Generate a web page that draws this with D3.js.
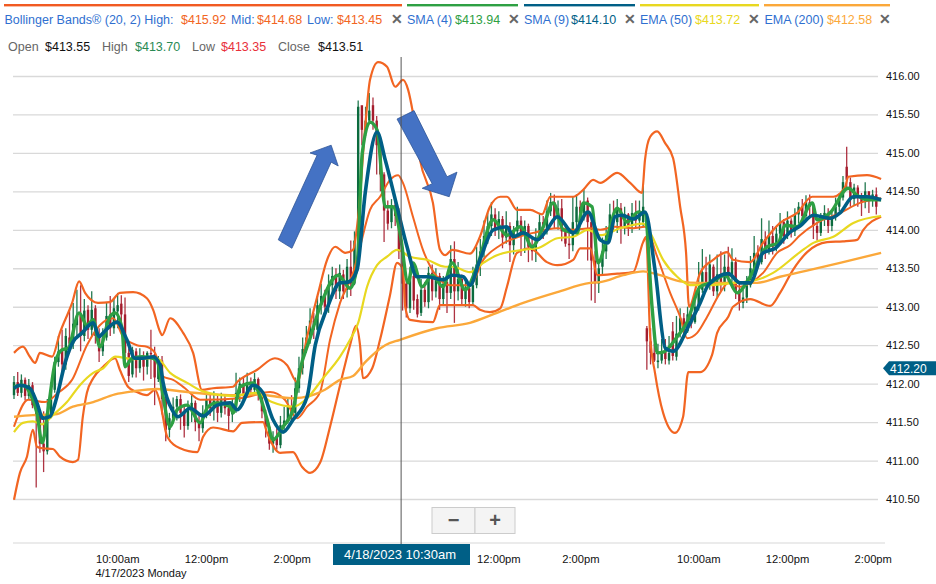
<!DOCTYPE html>
<html><head><meta charset="utf-8">
<script src="https://cdn.jsdelivr.net/npm/d3@7"></script>
<style>
html,body{margin:0;padding:0;background:#fff}
svg{display:block}
text{font-family:"Liberation Sans",Arial,sans-serif}
</style></head><body>
<svg id="c" width="936" height="584"></svg>
<script>
// ---- candles, one per five-minute bar (234 bars)
const opens=[
411.85,412.02,411.88,412.05,411.84,411.98,411.72,411.58,411.22,411.12,
411.60,411.92,412.28,412.44,412.25,412.60,412.52,412.76,412.90,412.62,
412.96,412.70,412.98,412.62,412.42,412.60,412.90,412.72,412.94,413.04,
412.90,412.40,412.12,412.42,412.20,412.36,412.22,412.40,412.38,412.06,
412.30,411.80,411.40,411.55,411.70,411.80,411.62,411.45,411.66,411.75,
411.50,411.42,411.62,411.80,411.68,411.78,411.62,411.80,411.68,411.60,
411.70,411.88,412.00,411.86,412.02,411.92,412.06,411.84,411.62,411.44,
411.22,411.30,411.20,411.46,411.52,411.70,411.62,411.94,412.20,412.45,
412.60,412.82,412.70,413.02,413.14,413.00,413.28,413.42,413.20,413.42,
413.22,413.52,413.30,413.88,415.62,415.30,415.42,415.62,415.42,415.10,
414.72,414.25,414.10,414.32,414.20,413.72,413.30,412.98,413.40,413.10,
412.92,413.22,413.06,413.44,413.20,413.40,413.10,413.32,413.18,413.62,
413.20,413.36,413.10,413.24,413.06,413.28,413.55,413.72,413.92,414.05,
414.20,414.02,414.14,413.90,414.05,413.80,413.98,414.12,413.92,414.05,
413.80,413.72,413.90,414.10,414.02,414.24,414.36,414.14,414.28,414.00,
413.82,413.80,414.10,414.30,414.22,414.38,414.10,413.60,413.30,413.52,
413.72,413.95,414.20,414.10,414.28,414.05,414.20,414.05,414.22,414.12,
414.10,412.72,412.55,412.40,412.28,412.30,412.42,412.30,412.68,412.35,
412.65,412.85,412.68,412.90,412.80,413.00,413.22,413.45,413.30,413.52,
413.20,413.42,413.28,413.52,413.38,413.58,413.22,413.05,413.12,413.28,
413.50,413.70,413.58,413.88,413.72,413.92,413.78,413.95,414.10,413.92,
414.12,413.98,414.20,414.30,414.18,414.36,414.30,414.05,413.96,414.15,
414.22,414.05,414.18,414.30,414.42,414.82,414.62,414.40,414.55,414.42,414.36,414.50,414.40,414.46];
const highs=[
412.10,412.15,412.12,412.08,412.06,412.02,411.80,411.62,411.64,411.80,
412.02,412.35,412.62,412.70,412.72,412.96,413.05,413.22,413.28,413.10,
413.02,413.20,413.02,412.72,412.72,413.05,413.14,413.10,413.18,413.15,
413.12,412.46,412.48,412.46,412.46,412.42,412.42,412.70,412.48,412.36,
412.36,411.84,411.62,411.82,411.84,411.86,411.70,411.78,411.85,411.78,
411.58,411.72,411.88,411.86,411.90,411.84,411.88,411.84,411.74,411.80,
412.14,412.08,412.08,412.14,412.08,412.14,412.08,411.88,411.66,411.48,
411.38,411.42,411.58,411.70,411.82,411.85,412.08,412.35,412.60,412.75,
412.98,412.92,413.14,413.30,413.22,413.42,413.52,413.50,413.55,413.48,
413.62,413.86,413.98,415.68,415.44,415.60,415.78,415.72,415.48,415.12,
414.75,414.38,414.40,414.42,414.28,413.78,413.42,413.52,413.50,413.16,
413.36,413.32,413.52,413.55,413.50,413.44,413.40,413.40,413.80,413.85,
413.58,413.42,413.34,413.30,413.52,413.78,413.88,414.12,414.22,414.36,
414.28,414.24,414.18,414.24,414.10,414.05,414.30,414.18,414.12,414.08,
413.90,414.02,414.22,414.18,414.38,414.48,414.46,414.38,414.40,414.05,
414.02,414.44,414.46,414.38,414.52,414.42,414.15,413.72,413.60,413.90,
414.05,414.34,414.38,414.40,414.35,414.30,414.22,414.35,414.38,414.38,
414.59,412.75,412.72,412.52,412.52,412.58,412.58,412.62,412.80,412.88,
412.98,412.92,413.00,413.02,413.22,413.58,413.75,413.65,413.68,413.55,
413.68,413.72,413.68,413.78,413.76,413.64,413.30,413.22,413.40,413.66,
413.92,413.80,414.15,413.98,414.12,414.05,414.05,414.22,414.14,414.24,
414.15,414.28,414.36,414.40,414.45,414.46,414.32,414.10,414.22,414.32,
414.28,414.24,414.42,414.48,414.70,415.08,414.68,414.60,414.58,414.48,414.62,414.50,414.52,414.55];
const lows=[
411.80,411.84,411.82,411.78,411.80,411.68,410.65,411.10,410.85,411.08,
411.55,411.88,412.22,412.15,412.18,412.40,412.45,412.62,412.42,412.55,
412.58,412.62,412.52,412.28,412.36,412.56,412.62,412.65,412.72,412.70,
412.22,412.02,412.08,412.08,412.14,412.04,412.12,412.06,411.72,412.02,
411.60,411.25,411.30,411.48,411.52,411.40,411.30,411.40,411.50,411.38,
411.25,411.36,411.55,411.58,411.52,411.50,411.56,411.60,411.38,411.50,
411.62,411.76,411.80,411.82,411.84,411.86,411.78,411.55,411.30,411.14,
411.10,411.14,411.16,411.38,411.48,411.52,411.58,411.88,412.12,412.40,
412.52,412.58,412.62,412.90,412.92,412.92,413.18,413.10,413.10,413.10,
413.12,413.14,413.28,413.84,415.10,415.22,415.38,415.30,414.72,414.50,
413.84,414.00,414.02,414.05,413.62,412.95,412.86,412.92,412.96,412.86,
412.88,413.00,412.98,413.08,413.12,412.96,413.02,412.92,413.10,412.79,
413.08,413.02,413.00,412.98,413.02,413.24,413.40,413.64,413.82,413.92,
413.92,413.88,413.76,413.82,413.58,413.68,413.90,413.66,413.70,413.58,
413.60,413.58,413.86,413.88,413.94,414.18,414.02,414.00,413.85,413.78,
413.62,413.72,414.02,414.10,414.12,413.60,413.08,413.05,413.18,413.42,
413.62,413.90,414.00,413.96,413.82,413.94,413.92,413.96,414.02,414.00,
414.05,412.18,412.25,412.28,412.20,412.26,412.25,412.25,412.30,412.30,
412.60,412.62,412.66,412.72,412.78,412.95,413.18,413.22,413.22,413.14,
413.12,413.20,413.20,413.30,413.25,413.10,412.95,412.98,413.05,413.25,
413.44,413.50,413.55,413.62,413.68,413.68,413.72,413.90,413.82,413.88,
413.90,413.92,414.08,414.10,414.12,414.18,413.88,413.86,413.92,414.05,
413.96,413.98,414.12,414.24,414.38,414.55,414.30,414.32,414.30,414.18,414.28,414.22,414.30,414.20];
const closes=[
412.02,411.88,412.05,411.84,411.98,411.72,411.58,411.22,411.12,411.58,
411.92,412.28,412.42,412.25,412.62,412.52,412.78,412.88,412.62,412.95,
412.70,412.96,412.62,412.42,412.60,412.88,412.72,412.98,413.02,412.90,
412.40,412.10,412.44,412.20,412.36,412.22,412.40,412.38,412.08,412.30,
411.80,411.40,411.55,411.70,411.80,411.62,411.45,411.66,411.75,411.50,
411.42,411.62,411.80,411.68,411.78,411.62,411.80,411.68,411.58,411.70,
411.88,412.00,411.86,412.02,411.92,412.06,411.86,411.64,411.44,411.22,
411.30,411.20,411.46,411.52,411.70,411.62,411.94,412.20,412.45,412.60,
412.82,412.70,413.02,413.14,413.00,413.28,413.40,413.20,413.44,413.20,
413.52,413.30,413.86,415.60,415.30,415.42,415.55,415.42,415.10,414.72,
414.25,414.08,414.30,414.18,413.72,413.30,412.98,413.40,413.08,412.90,
413.22,413.06,413.44,413.20,413.40,413.10,413.30,413.18,413.62,413.20,
413.36,413.10,413.24,413.06,413.28,413.55,413.72,413.92,414.05,414.20,
414.02,414.14,413.90,414.05,413.80,413.98,414.12,413.92,414.05,413.78,
413.72,413.90,414.10,414.02,414.24,414.36,414.14,414.28,413.98,413.82,
413.80,414.10,414.30,414.22,414.35,414.10,413.60,413.30,413.50,413.72,
413.95,414.20,414.10,414.28,414.05,414.20,414.05,414.22,414.12,414.25,
414.30,412.55,412.40,412.30,412.30,412.42,412.32,412.40,412.36,412.65,
412.85,412.68,412.90,412.78,413.00,413.22,413.45,413.30,413.55,413.20,
413.42,413.28,413.52,413.38,413.58,413.20,413.05,413.12,413.28,413.50,
413.70,413.58,413.88,413.72,413.92,413.78,413.95,414.10,413.92,414.12,
413.98,414.20,414.30,414.18,414.36,414.30,414.05,413.96,414.15,414.22,
414.05,414.18,414.30,414.42,414.62,414.65,414.40,414.55,414.42,414.36,414.50,414.40,414.46,414.30];

// ---- indicator lines as [bar, price]
const bandUpper=[[0,412.40],[2.4,412.48],[4.3,412.35],[5.7,412.27],[7,412.40],[10.3,412.35],[12.4,412.66],[15.7,413.05],[17.6,413.33],[19.2,413.18],[22.7,413.05],[25.9,413.06],[28.6,413.18],[32.2,413.19],[35.9,413.11],[37.6,412.96],[39.5,412.67],[40,412.63],[42.2,412.85],[45.7,412.66],[48.4,412.40],[50.8,411.92],[53.8,411.94],[59.2,411.96],[60.3,412.02],[65.7,412.18],[70.5,412.33],[73.8,412.24],[76.5,412.02],[79.2,412.61],[82.2,413.18],[84.6,413.61],[86.8,413.78],[89.5,413.70],[91.6,413.74],[93,414.17],[94.9,415.34],[96.2,415.95],[98.4,416.18],[100.8,416.12],[103,415.86],[105.1,415.95],[106.5,415.82],[107.8,415.52],[109.7,414.91],[113.2,414.35],[115.1,413.74],[116.5,413.67],[118.4,413.74],[123.2,413.69],[125.9,413.91],[128.6,414.30],[131.4,414.43],[133.2,414.43],[135.9,414.26],[139.5,414.26],[142.7,414.20],[144.9,414.43],[151.1,414.43],[153.8,414.52],[156.5,414.65],[158.4,414.61],[163,414.74],[166.5,414.61],[169.7,414.48],[170.5,414.91],[171.9,415.21],[173.8,415.28],[175.9,415.13],[178.1,414.93],[180,414.30],[181.6,413.70],[182.4,413.00],[185.4,413.44],[188.9,413.61],[192.7,413.71],[194.3,413.61],[198.9,413.58],[202.4,413.83],[207,414.09],[211.6,414.22],[215.7,414.43],[221.4,414.43],[224.6,414.56],[225.4,414.69],[230.5,414.71],[234.3,414.66]];
const bandMid=[[0,411.44],[3.8,411.79],[8.4,411.76],[11.9,411.88],[15.7,412.05],[19.7,412.50],[23.2,412.76],[26.8,412.85],[29.5,412.61],[33.2,412.50],[35.9,412.48],[38.1,412.40],[40.3,412.09],[43,412.05],[46.2,411.94],[50.3,411.79],[61.1,411.81],[69.2,411.89],[73.2,411.79],[76.5,411.55],[79.2,411.70],[82.7,411.89],[85.4,412.57],[88.1,413.05],[91.6,413.44],[93.5,413.78],[96.2,414.26],[98.9,414.43],[101.6,414.65],[103.8,414.71],[105.1,414.61],[107.8,414.17],[110.5,413.74],[114.3,413.39],[117.8,413.28],[123.2,413.28],[126.8,413.61],[131.4,413.80],[140.3,413.96],[146.8,414.02],[151.1,414.00],[155.7,414.02],[158.4,414.00],[162.4,414.04],[167.3,414.02],[170.5,414.04],[173.8,413.65],[177.3,413.18],[180,412.87],[181.9,412.59],[184.6,412.66],[187.3,412.87],[190.8,413.18],[193,413.31],[196.2,413.26],[198.9,413.31],[202.4,413.44],[206.2,413.70],[209.7,413.80],[212.4,413.93],[217,414.09],[223.2,414.22],[228.6,414.35],[234.3,414.41]];
const bandLower=[[0,410.49],[1.6,410.84],[3.5,411.05],[5.1,411.40],[6.2,411.18],[7.6,411.16],[10.5,411.15],[12.4,411.05],[15.9,410.98],[17.3,411.01],[18.6,411.57],[19.7,411.88],[21.4,412.07],[24.1,412.22],[27.3,412.33],[28.6,412.18],[30.8,411.96],[33.2,411.89],[35.9,411.85],[38.1,411.92],[39.5,411.75],[41.4,411.31],[44.9,411.16],[49.5,411.11],[51.1,411.31],[53.8,411.43],[59.2,411.38],[61.6,411.49],[67.3,411.50],[68.4,411.36],[71.9,411.10],[75.4,411.11],[77.8,410.92],[80,410.84],[82.7,410.97],[85.4,411.44],[88.1,411.98],[90.8,412.50],[92.4,412.75],[93.5,412.50],[94.3,412.07],[96.8,412.20],[98.9,412.57],[101.6,413.15],[103.5,413.57],[105.1,413.48],[105.7,413.00],[107,412.83],[113.2,412.80],[115.1,413.02],[124,413.02],[125.9,412.96],[128.6,412.93],[131.4,412.98],[133.2,413.26],[135.9,413.70],[139.5,413.76],[144,413.58],[146.8,413.54],[151.1,413.61],[153,413.76],[155.7,413.76],[157.6,413.41],[163,413.43],[167.3,413.45],[170,413.84],[170.8,413.91],[171.9,412.61],[173.2,412.14],[175.4,411.62],[178.6,411.36],[180.8,411.57],[182.2,412.15],[185.4,412.15],[188.6,412.37],[190,412.66],[193,412.87],[194.3,413.00],[198.9,413.10],[204.3,413.01],[207,413.18],[210.5,413.48],[214.3,413.71],[219.7,413.84],[224,413.85],[227.8,413.87],[229.5,414.00],[234.3,414.17]];
const sma4=[[0,411.96],[2.4,411.98],[4.3,411.88],[6.2,411.62],[7.6,411.23],[9.2,411.66],[11.1,412.27],[13,412.44],[14.6,412.46],[17.6,412.92],[19.7,412.76],[21.4,412.83],[23.2,412.48],[25.9,412.87],[27.3,412.92],[29.2,412.72],[30,412.22],[31.9,412.33],[34.6,412.35],[37.6,412.33],[38.9,412.27],[40.3,411.83],[42.2,411.44],[44.1,411.66],[46.8,411.72],[50.3,411.49],[52.4,411.70],[54.9,411.75],[58.4,411.70],[59.2,411.62],[61.1,411.96],[64.6,412.01],[66.5,411.83],[68.4,411.53],[70,411.27],[72.7,411.44],[75.4,411.66],[77.3,412.18],[80,412.59],[82.7,413.00],[87.6,413.41],[90.8,413.24],[92.7,413.52],[94.1,415.00],[96.2,415.40],[98.1,415.30],[100.3,414.30],[102.4,414.30],[104.3,413.96],[106.5,413.31],[107.8,413.57],[110.3,413.26],[113,413.41],[115.9,413.26],[118.4,413.57],[121.9,413.22],[125.1,413.52],[129.5,414.13],[133.2,413.93],[136.8,414.04],[140,413.78],[143,414.04],[145.7,414.35],[148.4,414.00],[152.2,413.96],[153.8,414.35],[156.2,414.30],[157.8,413.57],[160.3,413.91],[163,414.28],[165.7,414.10],[168.6,414.23],[170.5,414.21],[172.4,413.00],[173.8,412.40],[175.4,412.41],[179.2,412.61],[181.9,412.80],[185.4,413.26],[188.1,413.31],[192.2,413.41],[195.4,413.18],[198.9,413.39],[203.5,413.78],[206.5,413.83],[208.4,414.06],[211.6,414.04],[215.7,414.35],[217,414.13],[220.5,414.22],[225.4,414.54],[227.8,414.45],[230.5,414.39],[234.3,414.39]];
const sma9=[[0,411.94],[1.6,411.98],[4.3,411.94],[6.2,411.75],[7.8,411.55],[9.7,411.57],[11.6,411.83],[13.8,412.27],[15.9,412.54],[18.4,412.66],[21.4,412.79],[23,412.61],[24.1,412.66],[27.8,412.80],[30.5,412.57],[32.7,412.33],[34.9,412.33],[37.6,412.35],[39.5,412.24],[40.3,412.01],[42.7,411.66],[44.3,411.57],[47.6,411.68],[51.1,411.58],[54.9,411.72],[58.4,411.75],[60.3,411.66],[64.6,411.98],[67.3,411.88],[70,411.53],[72.7,411.37],[75.4,411.53],[79.2,411.83],[81.4,412.50],[84.6,412.98],[88.1,413.31],[90.3,413.32],[92.7,413.48],[94.9,414.48],[98.1,415.27],[100.3,414.91],[103.5,414.30],[106.2,413.78],[108.9,413.39],[111.6,413.39],[115.9,413.35],[118.4,413.41],[121.4,413.39],[123.2,413.28],[125.9,413.61],[129.5,414.00],[133.2,414.04],[134.9,413.91],[137.6,413.96],[141.4,413.87],[144,414.00],[146.8,414.17],[151.1,413.96],[155.1,414.23],[158.4,413.87],[160.5,413.83],[162.4,414.17],[164.3,414.19],[167.3,414.14],[170.5,414.23],[173.2,413.48],[176,412.46],[178.1,412.42],[182.2,412.74],[185.4,413.05],[187.6,413.28],[193,413.43],[196.2,413.31],[198.9,413.31],[202.4,413.70],[205.7,413.76],[209.7,413.97],[212.4,414.05],[216,414.19],[220.5,414.15],[223.2,414.22],[226.8,414.43],[230.5,414.43],[234.3,414.39]];
const ema50=[[0,411.37],[2.4,411.49],[5.1,411.51],[7.6,411.47],[10.5,411.59],[14.3,411.76],[17.8,411.98],[21.4,412.14],[24.1,412.20],[27.3,412.35],[32.2,412.32],[38.6,412.33],[42.2,412.14],[46.8,412.01],[51.1,411.90],[59.2,411.84],[65.1,411.88],[69.7,411.76],[75.4,411.70],[79.2,411.81],[83.5,412.07],[88.1,412.35],[90.8,412.57],[93,412.79],[95.4,413.26],[98.1,413.54],[100.8,413.65],[103.5,413.74],[107,413.65],[111.6,413.61],[116.5,413.52],[118.6,413.52],[123.2,413.45],[126.8,413.57],[130.5,413.67],[137.6,413.74],[141.4,413.76],[146.8,413.89],[151.1,413.91],[155.1,414.00],[158.4,413.93],[163.8,414.02],[170,414.08],[171.9,413.96],[175.4,413.61],[179.2,413.39],[182.7,413.28],[188.1,413.28],[194.3,413.31],[200.8,413.35],[205.1,413.44],[212.4,413.71],[216,413.83],[221.4,413.91],[226.8,414.09],[234.3,414.18]];
const ema200=[[0,411.57],[5.1,411.59],[11.1,411.60],[15.9,411.70],[21.4,411.76],[27.3,411.86],[32.2,411.90],[38.6,411.93],[46.8,411.89],[53.8,411.86],[59.2,411.85],[65.7,411.86],[71.1,411.83],[75.4,411.81],[80,411.84],[84,411.92],[88.1,412.05],[91.6,412.10],[94.9,412.28],[100.3,412.50],[104.3,412.57],[114.3,412.72],[123.2,412.79],[130.5,412.92],[137.6,413.05],[146.8,413.19],[155.7,413.31],[158.4,413.32],[164.6,413.41],[170,413.46],[174.6,413.41],[180,413.33],[185.4,413.31],[194.3,413.31],[200.8,413.31],[207,413.39],[215.1,413.48],[223.2,413.57],[234.3,413.70]];

// ---- annotation arrows as [bar, price]
const arrowUp=[[71.4,413.87],[81.9,414.97],[80,415],[85.7,415.10],[87.6,414.83],[85.7,414.88],[75.1,413.76]];
const arrowDown=[[103.5,415.44],[108.1,415.55],[117,414.69],[119.7,414.75],[117.6,414.43],[110.3,414.54],[113,414.60]];

// ---- axes
const priceTicks=[416,415.5,415,414.5,414,413.5,413,412.5,412,411.5,411,410.5];
const timeBars=[22,46,70,125,148,179,203,227];
const timeLabels=["10:00am","12:00pm","2:00pm","12:00pm","2:00pm","10:00am","12:00pm","2:00pm"];
const crosshairBar=104.6, crosshairLabel="4/18/2023 10:30am";
const dayBar=22, dayLabel="4/17/2023 Monday";
const lastPrice=412.20;

// ---- legends
const legendBars=[[4,402,"#f15a22"],[407,518,"#2ea043"],[524,635,"#005f86"],[640,759,"#e8d820"],[764,890,"#fba83a"]];
const legendTexts=[
 [4.5,"Bollinger Bands® (20, 2) High:","#2f6fd0"],[181,"$415.92","#f26522"],[231,"Mid:","#2f6fd0"],[257,"$414.68","#f26522"],[307,"Low:","#2f6fd0"],[337,"$413.45","#f26522"],
 [407,"SMA (4)","#2f6fd0"],[455,"$413.94","#2ea043"],
 [524,"SMA (9)","#2f6fd0"],[571,"$414.10","#005f86"],
 [640,"EMA (50)","#2f6fd0"],[695,"$413.72","#e8d820"],
 [764.5,"EMA (200)","#2f6fd0"],[827,"$412.58","#fba83a"]];
const legendClose=[396.5,514,630,754,885];
const ohlcTexts=[[8,"Open","#666"],[45,"$413.55","#111"],[102,"High","#666"],[135,"$413.70","#2a8a55"],[192,"Low","#666"],[221,"$413.35","#e8303a"],[278,"Close","#666"],[318,"$413.51","#111"]];

const svg=d3.select("#c");
const x=d3.scaleLinear().domain([0,234]).range([14,880]);
const y=d3.scaleLinear().domain([410.5,416]).range([499,76]);

// y axis + grid
const yAxis=d3.axisRight(y).tickValues(priceTicks).tickFormat(d3.format(".2f")).tickSize(-865).tickPadding(8);
const gy=svg.append("g").attr("transform","translate(878,0)").call(yAxis);
gy.select(".domain").remove();
gy.selectAll("line").attr("stroke","#d9d9d9").attr("stroke-width",1.3);
gy.selectAll("text").attr("font-size",11).attr("fill","#111");

// x axis
const xAxis=d3.axisBottom(x).tickValues(timeBars).tickFormat((d,i)=>timeLabels[i]).tickSize(0).tickPadding(12);
const gx=svg.append("g").attr("transform","translate(0,543)").call(xAxis);
gx.select(".domain").remove();
gx.selectAll("text").attr("font-size",11.2).attr("fill","#111").attr("text-anchor","start");
svg.append("line").attr("x1",13).attr("x2",885).attr("y1",543).attr("y2",543).attr("stroke","#e4e4e4").attr("stroke-width",1.5);
svg.append("text").attr("x",x(dayBar)).attr("y",577).attr("font-size",11).attr("fill","#111").text(dayLabel);

// candles
const upC="#0b6b3e",downC="#a51d2d";
const bars=d3.range(closes.length);
const colorOf=i=>closes[i]>=opens[i]?upC:downC;
const gc=svg.append("g");
gc.selectAll("line").data(bars).join("line")
  .attr("x1",i=>x(i)).attr("x2",i=>x(i)).attr("y1",i=>y(highs[i])).attr("y2",i=>y(lows[i]))
  .attr("stroke",colorOf).attr("stroke-width",1.3).attr("stroke-opacity",.9);
gc.selectAll("rect").data(bars).join("rect")
  .attr("x",i=>x(i)-1.2).attr("width",2.4)
  .attr("y",i=>y(Math.max(opens[i],closes[i])))
  .attr("height",i=>Math.max(1,Math.abs(y(opens[i])-y(closes[i]))))
  .attr("fill",colorOf);

// lines
const line=d3.line().x(d=>x(d[0])).y(d=>y(d[1])).curve(d3.curveMonotoneX);
[[bandMid,"#f26522",2],[bandLower,"#f26522",2.2],[bandUpper,"#f26522",2.2],
 [ema200,"#fba83a",2.4],[ema50,"#e8d820",2.2],[sma4,"#2ea043",3.4],[sma9,"#005f86",3.6]]
 .forEach(([d,c,w])=>svg.append("path").datum(d).attr("d",line).attr("fill","none").attr("stroke",c).attr("stroke-width",w).attr("stroke-linejoin","round"));

// arrows
[arrowUp,arrowDown].forEach(a=>svg.append("polygon")
  .attr("points",a.map(p=>[x(p[0]),y(p[1])].join(",")).join(" "))
  .attr("fill","#4472c4").attr("stroke","#2f5597").attr("stroke-width",.8));

// crosshair
svg.append("line").attr("x1",x(crosshairBar)).attr("x2",x(crosshairBar)).attr("y1",57).attr("y2",545).attr("stroke","#555").attr("stroke-width",1);
svg.append("rect").attr("x",333).attr("y",544).attr("width",137).attr("height",21).attr("fill","#005f86");
svg.append("text").attr("x",x(crosshairBar)-1).attr("y",559).attr("text-anchor","middle").attr("font-size",13).attr("fill","#fff").text(crosshairLabel);

// zoom buttons
[[432,43,"−"],[475,40,"+"]].forEach(([bx,w,t])=>{
  svg.append("rect").attr("x",bx).attr("y",507.5).attr("width",w).attr("height",26).attr("fill","#f4f4f4").attr("stroke","#ccc");
  svg.append("text").attr("x",bx+w/2).attr("y",526.5).attr("text-anchor","middle").attr("font-size",20).attr("font-weight","bold").attr("fill","#555").text(t);
});

// price tag
const ty=y(lastPrice);
svg.append("polygon").attr("points",[[883,ty],[889,ty-7],[936,ty-7],[936,ty+7],[889,ty+7]].map(p=>p.join(",")).join(" ")).attr("fill","#005f86");
svg.append("text").attr("x",890).attr("y",ty+4.5).attr("font-size",12).attr("fill","#fff").text(lastPrice.toFixed(2));

// legend
legendBars.forEach(([a,b,c])=>svg.append("rect").attr("x",a).attr("y",4).attr("width",b-a).attr("height",2.4).attr("fill",c));
legendTexts.forEach(([tx,t,c])=>svg.append("text").attr("x",tx).attr("y",24).attr("font-size",12.5).attr("fill",c).text(t));
legendClose.forEach(tx=>svg.append("text").attr("x",tx).attr("y",24).attr("text-anchor","middle").attr("font-size",14).attr("font-weight","bold").attr("fill","#666").text("✕"));
ohlcTexts.forEach(([tx,t,c])=>svg.append("text").attr("x",tx).attr("y",51).attr("font-size",12.5).attr("fill",c).text(t));
</script>
</body></html>
